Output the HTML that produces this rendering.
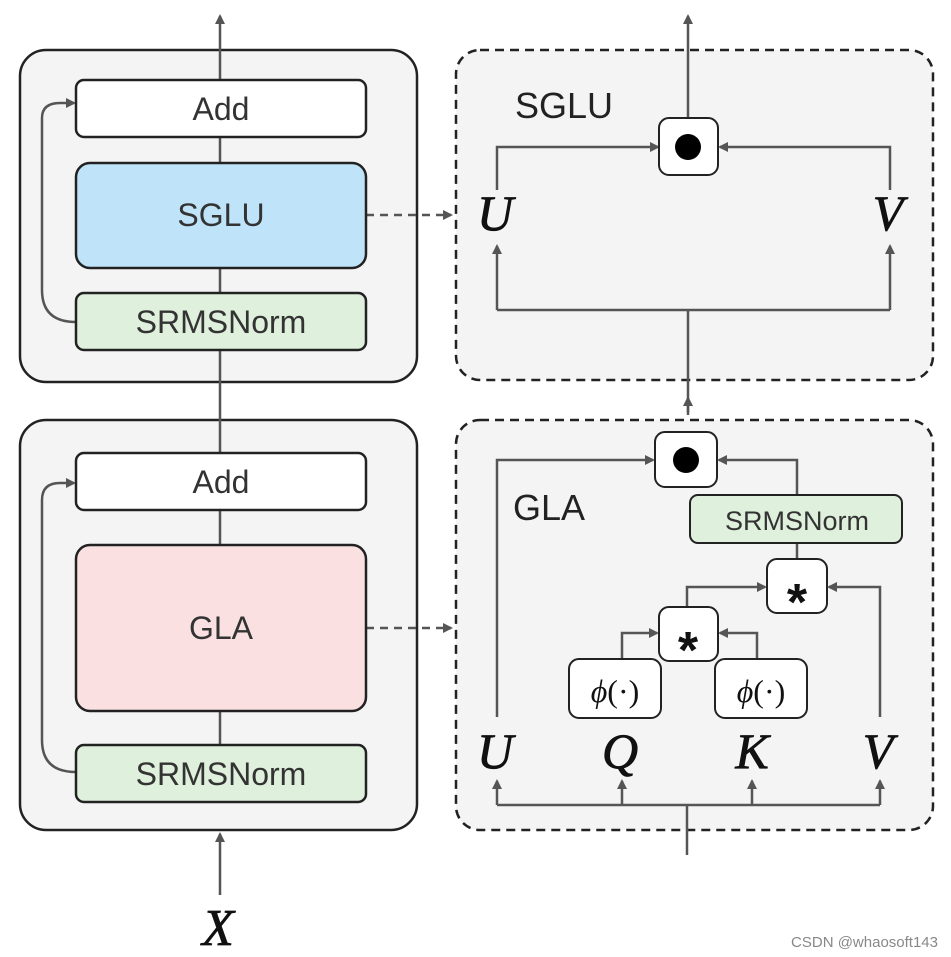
<!DOCTYPE html>
<html><head><meta charset="utf-8"><style>body{margin:0;background:#fff}svg{display:block}</style></head><body>
<svg width="951" height="957" viewBox="0 0 951 957" xmlns="http://www.w3.org/2000/svg" font-family="Liberation Sans, sans-serif">
<defs>
<marker id="a" markerWidth="10" markerHeight="10" refX="8" refY="5" orient="auto" markerUnits="userSpaceOnUse"><path d="M0,0 L10,5 L0,10 z" fill="#555"/></marker>
</defs>
<rect x="20" y="50" width="397" height="332" rx="26" fill="#f4f4f4" stroke="#222" stroke-width="2.5"/>
<rect x="20" y="420" width="397" height="410" rx="26" fill="#f4f4f4" stroke="#222" stroke-width="2.5"/>
<g stroke="#555" stroke-width="2.5" fill="none">
<line x1="220" y1="745" x2="220" y2="16" marker-end="url(#a)"/>
<line x1="220" y1="895" x2="220" y2="834" marker-end="url(#a)"/>
<path d="M76,322 Q42,322 42,290 L42,118 Q42,103 60,103 L74,103" marker-end="url(#a)"/>
<path d="M76,772 Q42,772 42,740 L42,500 Q42,483 60,483 L74,483" marker-end="url(#a)"/>
<line x1="366" y1="215" x2="451" y2="215" stroke-dasharray="8,6" marker-end="url(#a)"/>
<line x1="366" y1="628" x2="451" y2="628" stroke-dasharray="8,6" marker-end="url(#a)"/>
</g>
<g stroke="#222" stroke-width="2.5">
<rect x="76" y="80" width="290" height="57" rx="8" fill="#fff"/>
<rect x="76" y="163" width="290" height="105" rx="14" fill="#bfe4fa"/>
<rect x="76" y="293" width="290" height="57" rx="8" fill="#dff0dc"/>
<rect x="76" y="453" width="290" height="57" rx="8" fill="#fff"/>
<rect x="76" y="545" width="290" height="166" rx="14" fill="#fae0e0"/>
<rect x="76" y="745" width="290" height="57" rx="8" fill="#dff0dc"/>
</g>
<g font-size="32" text-anchor="middle" fill="#333">
<text x="221" y="120">Add</text>
<text x="221" y="226">SGLU</text>
<text x="221" y="333">SRMSNorm</text>
<text x="221" y="493">Add</text>
<text x="221" y="639">GLA</text>
<text x="221" y="785">SRMSNorm</text>
</g>
<text x="218" y="945" font-family="Liberation Serif, serif" font-style="italic" font-size="52" text-anchor="middle" fill="#111" stroke="#111" stroke-width="0.8">X</text>

<rect x="456" y="50" width="477" height="330" rx="24" fill="#f4f4f4" stroke="#222" stroke-width="2.5" stroke-dasharray="9,6"/>
<rect x="456" y="420" width="477" height="410" rx="24" fill="#f4f4f4" stroke="#222" stroke-width="2.5" stroke-dasharray="9,6"/>

<g stroke="#555" stroke-width="2.5" fill="none">
<line x1="688" y1="118" x2="688" y2="16" marker-end="url(#a)"/>
<path d="M497,190 L497,147 L658,147" marker-end="url(#a)"/>
<path d="M890,190 L890,147 L720,147" marker-end="url(#a)"/>
<line x1="688" y1="415" x2="688" y2="310"/>
<line x1="497" y1="310" x2="890" y2="310"/>
<line x1="497" y1="310" x2="497" y2="246" marker-end="url(#a)"/>
<line x1="890" y1="310" x2="890" y2="246" marker-end="url(#a)"/>
<line x1="688" y1="412" x2="688" y2="398" marker-end="url(#a)"/>
<path d="M497,717 L497,460 L653,460" marker-end="url(#a)"/>
<path d="M797,495 L797,460 L719,460" marker-end="url(#a)"/>
<line x1="797" y1="543" x2="797" y2="559"/>
<path d="M880,717 L880,587 L829,587" marker-end="url(#a)"/>
<path d="M687,607 L687,587 L765,587" marker-end="url(#a)"/>
<path d="M622,659 L622,633 L657,633" marker-end="url(#a)"/>
<path d="M757,659 L757,633 L720,633" marker-end="url(#a)"/>
<line x1="497" y1="805" x2="880" y2="805"/>
<line x1="687" y1="855" x2="687" y2="805"/>
<line x1="497" y1="805" x2="497" y2="781" marker-end="url(#a)"/>
<line x1="622" y1="805" x2="622" y2="781" marker-end="url(#a)"/>
<line x1="752" y1="805" x2="752" y2="781" marker-end="url(#a)"/>
<line x1="880" y1="805" x2="880" y2="781" marker-end="url(#a)"/>
</g>
<g stroke="#222" stroke-width="2" fill="#fff">
<rect x="659" y="118" width="59" height="57" rx="10"/>
<rect x="655" y="432" width="62" height="55" rx="10"/>
<rect x="690" y="495" width="212" height="48" rx="8" fill="#dff0dc"/>
<rect x="767" y="559" width="60" height="54" rx="10"/>
<rect x="659" y="607" width="59" height="54" rx="10"/>
<rect x="569" y="659" width="92" height="59" rx="10"/>
<rect x="715" y="659" width="92" height="59" rx="10"/>
</g>
<circle cx="688" cy="147" r="13" fill="#000"/>
<circle cx="686" cy="460" r="13" fill="#000"/>
<g fill="#111" text-anchor="middle">
<text x="797" y="530" font-size="27" fill="#333">SRMSNorm</text>
<text x="797" y="620" font-size="52" font-weight="bold">*</text>
<text x="688" y="668" font-size="52" font-weight="bold">*</text>
<text x="615" y="702" font-size="32" font-family="Liberation Serif, serif"><tspan font-style="italic">ϕ</tspan>(·)</text>
<text x="761" y="702" font-size="32" font-family="Liberation Serif, serif"><tspan font-style="italic">ϕ</tspan>(·)</text>
</g>
<text x="515" y="118" font-size="36" fill="#222">SGLU</text>
<text x="513" y="520" font-size="36" fill="#222">GLA</text>
<g font-family="Liberation Serif, serif" font-style="italic" font-size="50" text-anchor="middle" fill="#111" stroke="#111" stroke-width="0.8">
<text x="495" y="230">U</text>
<text x="888" y="230">V</text>
<text x="495" y="768">U</text>
<text x="620" y="768">Q</text>
<text x="752" y="768">K</text>
<text x="878" y="768">V</text>
</g>
<text x="938" y="947" font-size="15" text-anchor="end" fill="#888">CSDN @whaosoft143</text>
</svg>
</body></html>
